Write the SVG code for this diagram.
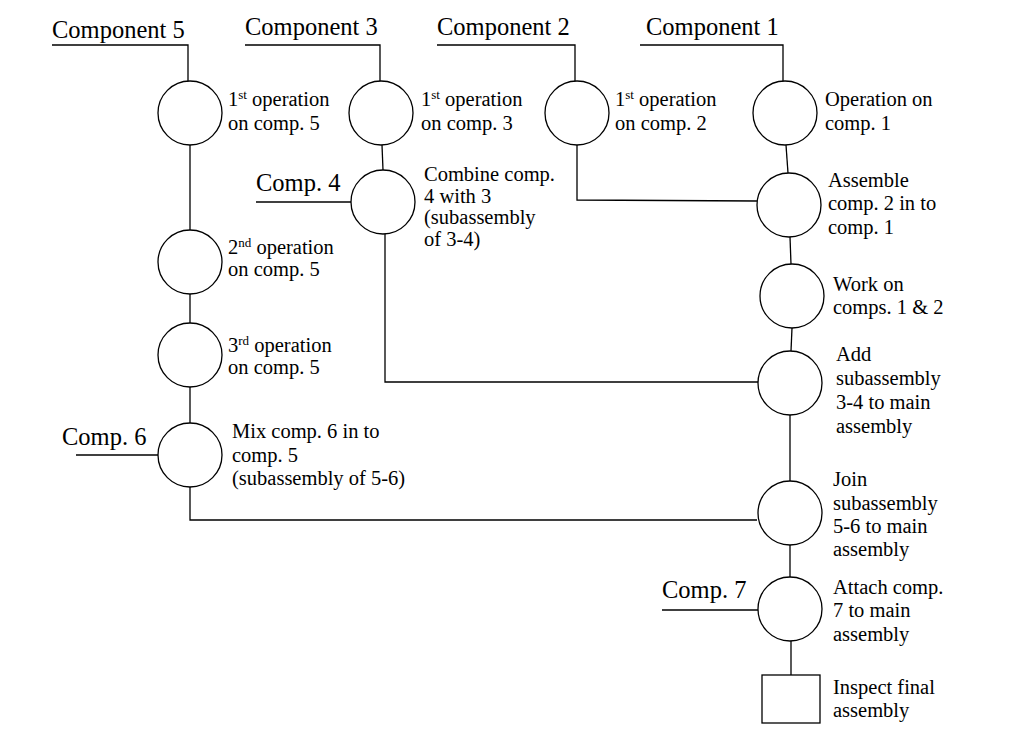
<svg xmlns="http://www.w3.org/2000/svg" width="1024" height="744" viewBox="0 0 1024 744">
<style>
text{font-family:"Liberation Serif","Times New Roman",serif;fill:#000}
.t{font-size:20.5px}
.h{font-size:24.5px}
.s{font-size:13px}
.n{fill:#fff;stroke:#000;stroke-width:1.3}
.c line,.c polyline{stroke:#000;stroke-width:1.3;fill:none}
</style>
<rect width="1024" height="744" fill="#fff"/>
<g class="c" id="connectors">
<polyline points="52,45 188,45 188,81"/>
<line x1="190" y1="145" x2="190" y2="230"/>
<line x1="190" y1="294" x2="190" y2="323"/>
<line x1="190" y1="387" x2="190" y2="423"/>
<line x1="76" y1="455" x2="158" y2="455"/>
<polyline points="190,487 190,520 757,520"/>
<polyline points="245,45 380,45 380,81"/>
<line x1="382" y1="145" x2="383" y2="170"/>
<line x1="256" y1="202" x2="351" y2="202"/>
<polyline points="385,234 385,382 758,382"/>
<polyline points="437,45 575,45 575,81"/>
<polyline points="577,145 577,200 757,201"/>
<polyline points="640,45 783,45 783,81"/>
<line x1="786" y1="145" x2="788" y2="173"/>
<line x1="790" y1="237" x2="791" y2="264"/>
<line x1="792" y1="328" x2="791" y2="351"/>
<line x1="790" y1="415" x2="790" y2="481"/>
<line x1="790" y1="545" x2="790" y2="577"/>
<line x1="662" y1="610" x2="758" y2="610"/>
<line x1="791" y1="641" x2="791" y2="675"/>
</g>
<g id="comp5"><text class="h" x="52" y="38">Component 5</text></g>
<g id="comp3"><text class="h" x="245" y="35">Component 3</text></g>
<g id="comp2"><text class="h" x="437" y="35">Component 2</text></g>
<g id="comp1"><text class="h" x="646" y="35">Component 1</text></g>
<g id="n5a"><ellipse class="n" cx="190" cy="113" rx="32" ry="32"/><text class="t" x="228" y="106">1<tspan class="s" dy="-7">st</tspan><tspan dy="7"> operation</tspan></text><text class="t" x="228" y="130">on comp. 5</text></g>
<g id="n5b"><ellipse class="n" cx="190" cy="262" rx="32" ry="32"/><text class="t" x="228" y="254">2<tspan class="s" dy="-7">nd</tspan><tspan dy="7"> operation</tspan></text><text class="t" x="228" y="276">on comp. 5</text></g>
<g id="n5c"><ellipse class="n" cx="190" cy="355" rx="32" ry="32"/><text class="t" x="228" y="352">3<tspan class="s" dy="-7">rd</tspan><tspan dy="7"> operation</tspan></text><text class="t" x="228" y="374">on comp. 5</text></g>
<g id="n56"><ellipse class="n" cx="190" cy="455" rx="32" ry="32"/><text class="t" x="232" y="438">Mix comp. 6 in to</text><text class="t" x="232" y="462">comp. 5</text><text class="t" x="232" y="485">(subassembly of 5-6)</text></g>
<g id="c6"><text class="h" x="62" y="445">Comp. 6</text></g>
<g id="n3a"><ellipse class="n" cx="381" cy="113" rx="32" ry="32"/><text class="t" x="421" y="106">1<tspan class="s" dy="-7">st</tspan><tspan dy="7"> operation</tspan></text><text class="t" x="421" y="130">on comp. 3</text></g>
<g id="n34"><ellipse class="n" cx="383" cy="202" rx="32" ry="32"/><text class="t" x="424" y="181">Combine comp.</text><text class="t" x="424" y="203">4 with 3</text><text class="t" x="424" y="224">(subassembly</text><text class="t" x="424" y="246">of 3-4)</text></g>
<g id="c4"><text class="h" x="256" y="191">Comp. 4</text></g>
<g id="n2a"><ellipse class="n" cx="577" cy="113" rx="32" ry="32"/><text class="t" x="615" y="106">1<tspan class="s" dy="-7">st</tspan><tspan dy="7"> operation</tspan></text><text class="t" x="615" y="130">on comp. 2</text></g>
<g id="n1a"><ellipse class="n" cx="785" cy="113" rx="32" ry="32"/><text class="t" x="825" y="106">Operation on</text><text class="t" x="825" y="130">comp. 1</text></g>
<g id="n12"><ellipse class="n" cx="789" cy="205" rx="32" ry="32"/><text class="t" x="828" y="187">Assemble</text><text class="t" x="828" y="210">comp. 2 in to</text><text class="t" x="828" y="234">comp. 1</text></g>
<g id="nwork"><ellipse class="n" cx="792" cy="296" rx="32" ry="32"/><text class="t" x="833" y="291">Work on</text><text class="t" x="833" y="314">comps. 1 &amp; 2</text></g>
<g id="nadd"><ellipse class="n" cx="790" cy="383" rx="32" ry="32"/><text class="t" x="836" y="361">Add</text><text class="t" x="836" y="385">subassembly</text><text class="t" x="836" y="409">3-4 to main</text><text class="t" x="836" y="433">assembly</text></g>
<g id="njoin"><ellipse class="n" cx="790" cy="513" rx="32" ry="32"/><text class="t" x="833" y="486">Join</text><text class="t" x="833" y="510">subassembly</text><text class="t" x="833" y="533">5-6 to main</text><text class="t" x="833" y="556">assembly</text></g>
<g id="c7"><text class="h" x="662" y="598">Comp. 7</text></g>
<g id="nattach"><ellipse class="n" cx="790" cy="609" rx="32" ry="32"/><text class="t" x="833" y="594">Attach comp.</text><text class="t" x="833" y="617">7 to main</text><text class="t" x="833" y="641">assembly</text></g>
<g id="ninspect"><rect class="n" x="762" y="675" width="58" height="48"/><text class="t" x="833" y="694">Inspect final</text><text class="t" x="833" y="717">assembly</text></g>
</svg>
